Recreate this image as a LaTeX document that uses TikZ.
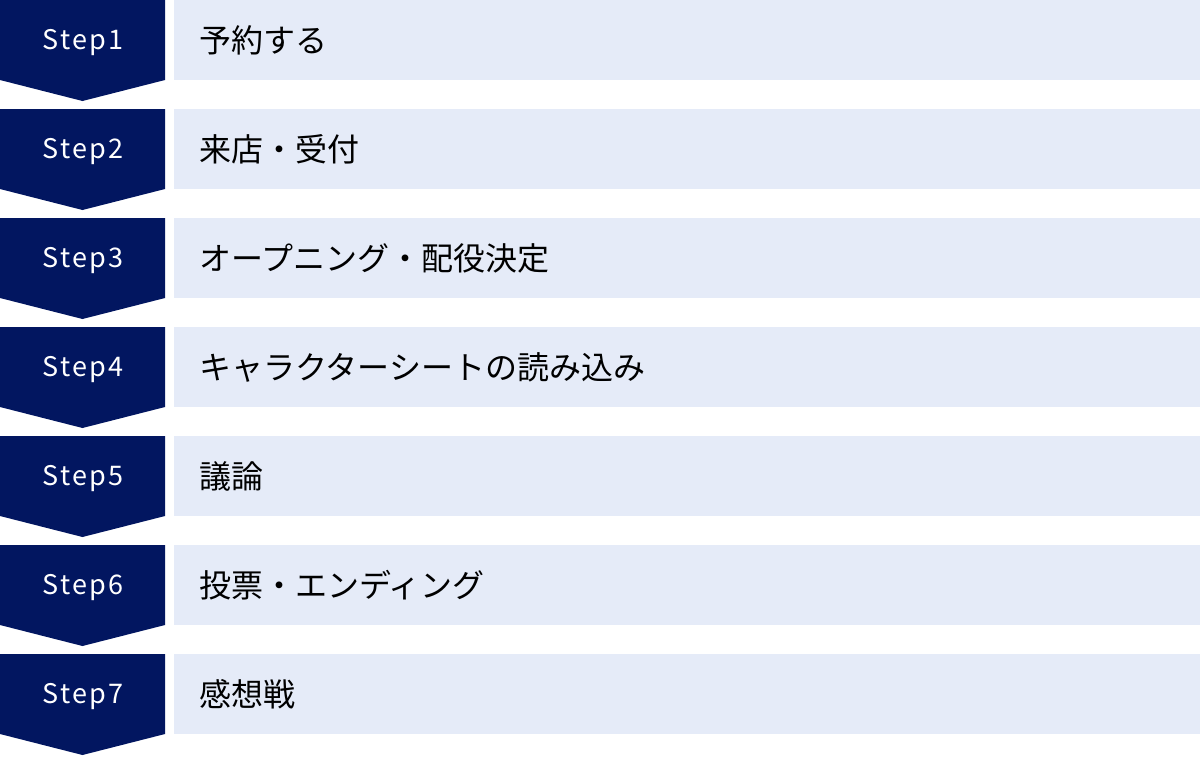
\documentclass[tikz,border=0pt]{standalone}
\usepackage{fontspec}
\setmainfont{Noto Sans CJK JP}
\newfontfamily\stepfont[LetterSpace=8]{Noto Sans CJK JP}
\definecolor{navy}{HTML}{021660}
\definecolor{pale}{HTML}{E5EBF8}
\begin{document}
\begin{tikzpicture}[x=1pt,y=-1pt,
  stepbox/.style={fill=navy,draw=none},
  labelbox/.style={fill=pale,draw=none},
  steptext/.style={text=white,font=\stepfont\fontsize{27}{32}\selectfont,anchor=center,inner sep=0},
  itemtext/.style={text=black,font=\fontsize{32}{38}\selectfont,anchor=west,inner sep=0}]
\useasboundingbox (0,0) rectangle (1200,756);
\foreach \i/\t in {1/予約する,2/来店・受付,3/オープニング・配役決定,4/キャラクターシートの読み込み,5/議論,6/投票・エンディング,7/感想戦}{
  \pgfmathsetmacro{\y}{(\i-1)*109}
  \fill[stepbox] (0,\y) -- (165,\y) -- (165,\y+80) -- (82.5,\y+101) -- (0,\y+80) -- cycle;
  \fill[labelbox] (174,\y) rectangle (1200,\y+80);
  \node[steptext] (s\i) at (83,\y+43) {Step\i};
  \node[itemtext] (t\i) at (199,\y+40) {\t};
}
\end{tikzpicture}
\end{document}
